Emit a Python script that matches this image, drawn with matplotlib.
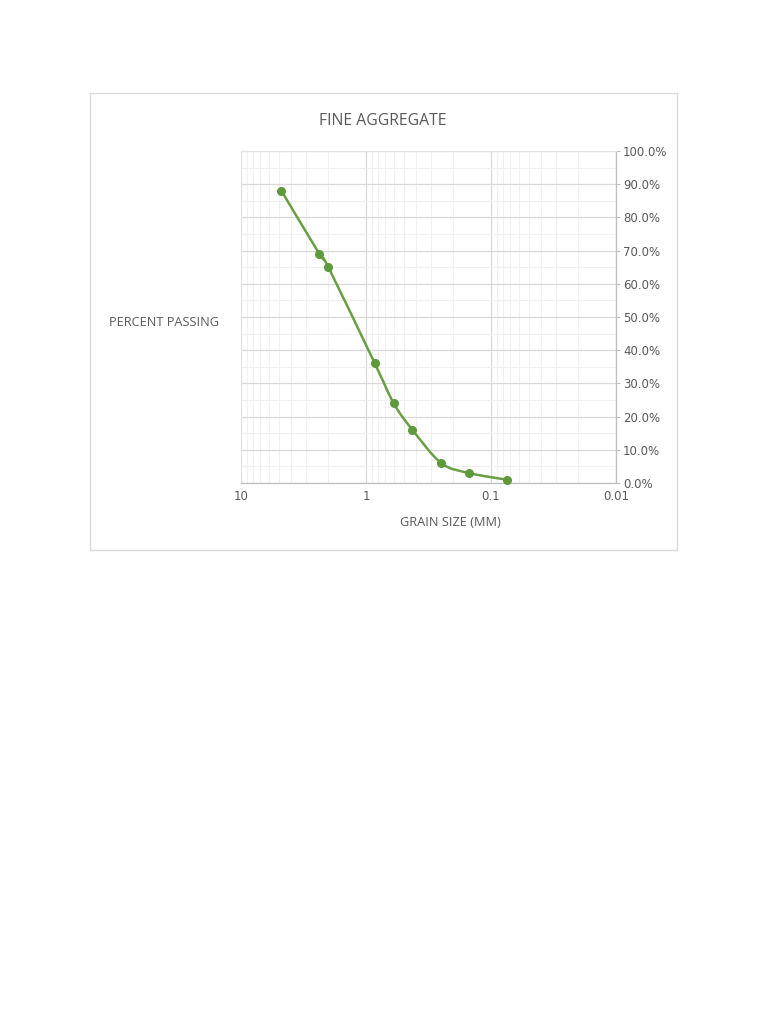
import numpy as np
import matplotlib
matplotlib.use("Agg")
import matplotlib.pyplot as plt
from matplotlib.path import Path
from matplotlib.patches import PathPatch, Rectangle
from matplotlib.ticker import FixedLocator, FuncFormatter, LogLocator, NullFormatter, MultipleLocator

# Data (sieve size in mm, percent passing)
grain_size_mm = [4.75, 2.36, 2.0, 0.85, 0.6, 0.425, 0.25, 0.15, 0.075]
percent_passing = [0.88, 0.69, 0.65, 0.36, 0.24, 0.16, 0.06, 0.03, 0.01]
x_ticks = [10, 1, 0.1, 0.01]
x_tick_labels = ["10", "1", "0.1", "0.01"]

title_text = "FINE AGGREGATE"
xlabel_text = "GRAIN SIZE (MM)"
ylabel_text = "PERCENT PASSING"

line_color = "#6A9E45"
marker_color = "#5E9A3C"
text_color = "#595959"

plt.rcParams['font.family'] = ['DejaVu Sans']

fig = plt.figure(figsize=(7.68, 10.24), dpi=100)
fig.patch.set_facecolor("white")

# chart border
fig.patches.append(Rectangle((90/768, 1-550/1024), (677-90)/768, (550-93)/1024,
                             transform=fig.transFigure, fill=False,
                             edgecolor="#D9D9D9", linewidth=1.0))

ax = fig.add_axes([241/768, 1-483/1024, (616-241)/768, (483-151)/1024])
ax.set_xscale("log")
ax.set_xlim(10, 0.01)
ax.set_ylim(0, 1.0)

# grid
ax.xaxis.set_major_locator(FixedLocator(x_ticks))
ax.xaxis.set_minor_locator(LogLocator(base=10, subs=np.arange(2, 10)))
ax.xaxis.set_minor_formatter(NullFormatter())
ax.xaxis.set_major_formatter(FuncFormatter(lambda v, p: x_tick_labels[x_ticks.index(v)] if v in x_ticks else ""))
ax.yaxis.set_major_locator(MultipleLocator(0.1))
ax.yaxis.set_minor_locator(MultipleLocator(0.05))
ax.yaxis.set_major_formatter(FuncFormatter(lambda v, p: f"{v*100:.1f}%"))
ax.grid(which="major", color="#D9D9D9", linewidth=0.9)
ax.grid(which="minor", color="#F0F0F0", linewidth=0.8)
ax.set_axisbelow(True)

ax.yaxis.tick_right()
ax.tick_params(axis="both", which="both", length=0, colors=text_color, labelsize=8.5)
ax.tick_params(axis="y", which="major", length=3, color="#BFBFBF", pad=2)
ax.tick_params(axis="x", which="major", pad=5)

for side in ["top", "left"]:
    ax.spines[side].set_color("#E3E3E3")
    ax.spines[side].set_linewidth(0.8)
for side in ["bottom", "right"]:
    ax.spines[side].set_color("#BFBFBF")
    ax.spines[side].set_linewidth(0.9)

# smooth curve (Catmull-Rom to cubic Bezier in log-x space)
lx = np.log10(np.array(grain_size_mm))
yy = np.array(percent_passing)
pts = np.column_stack([lx, yy])
n = len(pts)
verts = [pts[0]]
codes = [Path.MOVETO]
for i in range(n - 1):
    p0 = pts[i - 1] if i > 0 else pts[i]
    p1 = pts[i]
    p2 = pts[i + 1]
    p3 = pts[i + 2] if i + 2 < n else pts[i + 1]
    c1 = p1 + (p2 - p0) / 6.0
    c2 = p2 - (p3 - p1) / 6.0
    verts += [c1, c2, p2]
    codes += [Path.CURVE4] * 3
verts = np.array(verts)
verts[:, 0] = 10 ** verts[:, 0]
path = Path(verts, codes)
ax.add_patch(PathPatch(path, facecolor="none", edgecolor=line_color, linewidth=1.8,
                       transform=ax.transData, zorder=3))

ax.plot(grain_size_mm, percent_passing, linestyle="none", marker="o", markersize=5.5,
        color=marker_color, zorder=4, clip_on=False)

# labels
fig.text(383/768, 1-121/1024, title_text, ha="center", va="center",
         fontsize=11.3, color=text_color, family=["Open Sans", "DejaVu Sans"])
fig.text(164/768, 1-322/1024, ylabel_text, ha="center", va="center",
         fontsize=9.2, color=text_color, family=["Open Sans", "DejaVu Sans"])
fig.text(450/768, 1-523/1024, xlabel_text, ha="center", va="center",
         fontsize=9.2, color=text_color, family=["Open Sans", "DejaVu Sans"])

fig.savefig("out.png", dpi=100, facecolor="white")
